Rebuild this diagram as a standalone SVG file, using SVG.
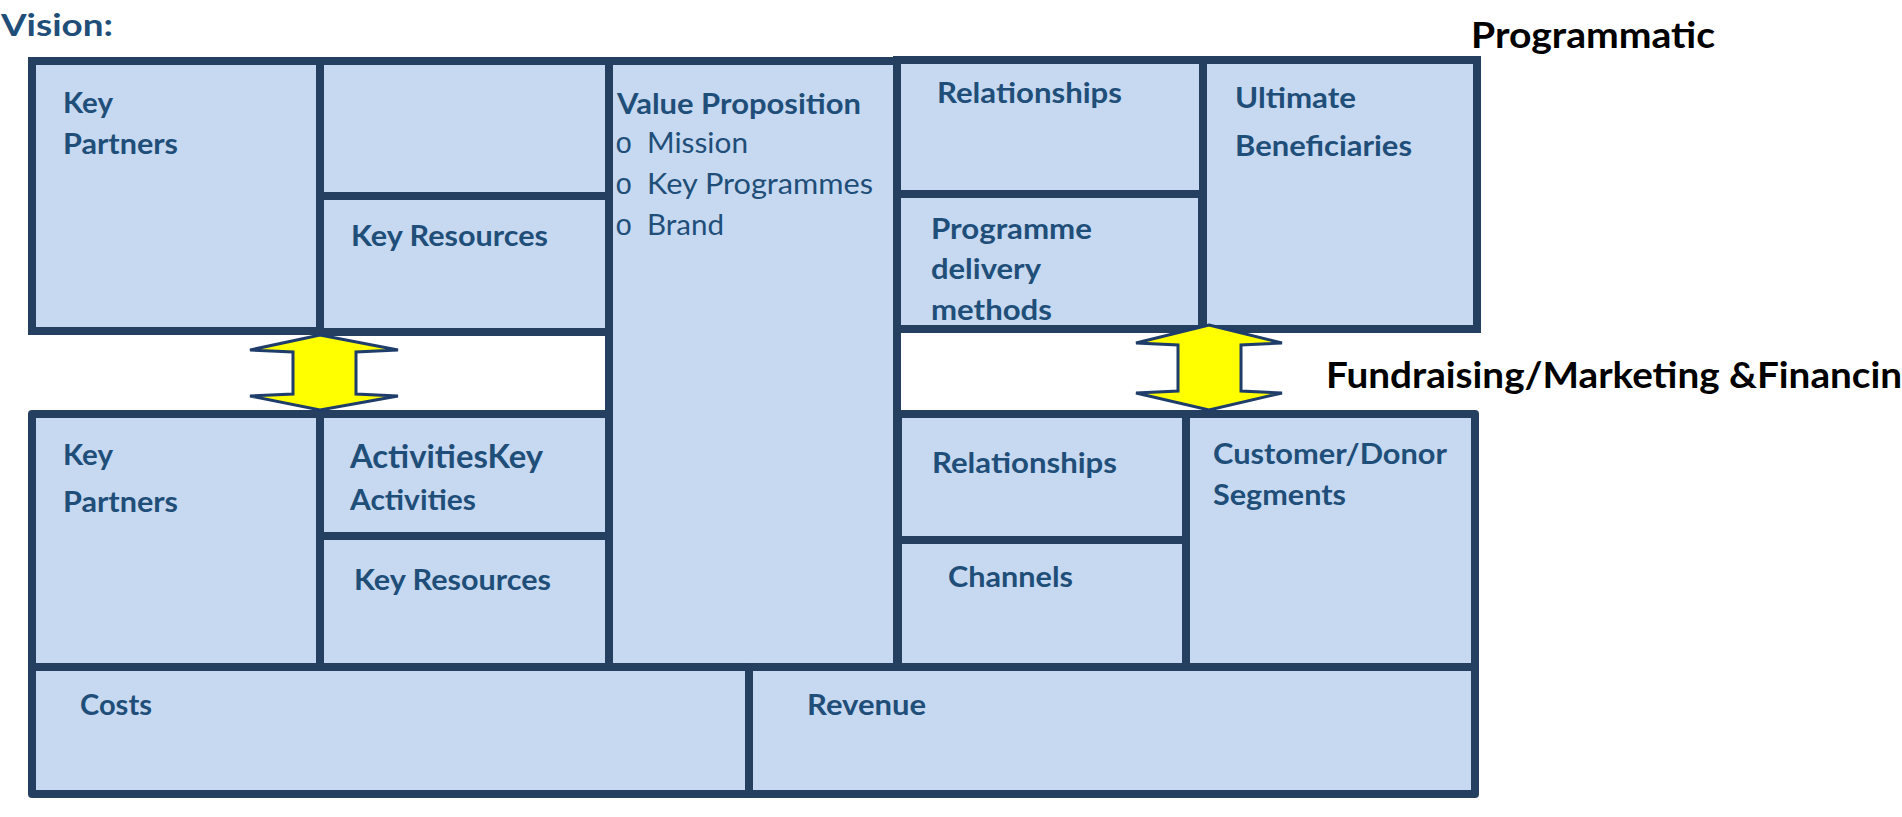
<svg xmlns="http://www.w3.org/2000/svg" width="1902" height="817" viewBox="0 0 1902 817">
<style>
.box{fill:#c6d9f1;stroke:#243f60;stroke-width:8}
.rb{stroke-linejoin:round}
.lb{font-family:Lato,"Liberation Sans",sans-serif;font-weight:bold;font-size:29px;fill:#1f4e79}
.rg{font-family:Lato,"Liberation Sans",sans-serif;font-weight:normal;font-size:29px;fill:#1f4e79}
.bul{font-family:"Liberation Mono",monospace;font-size:29px;fill:#1f4e79}
.hd{font-family:Lato,"Liberation Sans",sans-serif;font-weight:bold;font-size:36px;fill:#000}
.arr{fill:#ffff00;stroke:#1f3d6b;stroke-width:3;stroke-linejoin:miter}
</style>
<rect width="1902" height="817" fill="#fff"/>
<text class="lb" x="1" y="36" style="font-size:30px" textLength="112" lengthAdjust="spacingAndGlyphs">Vision:</text>
<text class="hd" x="1471" y="48" textLength="244" lengthAdjust="spacingAndGlyphs">Programmatic</text>
<text class="hd" x="1326" y="388" textLength="576" lengthAdjust="spacingAndGlyphs">Fundraising/Marketing &amp;Financin</text>

<g id="value-proposition">
<rect class="box" x="609" y="61" width="288" height="606"/>
<text class="lb" x="617" y="114" textLength="244" lengthAdjust="spacingAndGlyphs">Value Proposition</text>
<text class="bul" x="615" y="153">o</text>
<text class="rg" x="647" y="153" textLength="101" lengthAdjust="spacingAndGlyphs">Mission</text>
<text class="bul" x="615" y="194">o</text>
<text class="rg" x="647" y="194" textLength="226" lengthAdjust="spacingAndGlyphs">Key Programmes</text>
<text class="bul" x="615" y="235">o</text>
<text class="rg" x="647" y="235" textLength="77" lengthAdjust="spacingAndGlyphs">Brand</text>
</g>

<g id="key-partners-top">
<rect class="box" x="32" y="61" width="288" height="270"/>
<text class="lb" x="63" y="113" textLength="50" lengthAdjust="spacingAndGlyphs">Key</text>
<text class="lb" x="63" y="154" textLength="115" lengthAdjust="spacingAndGlyphs">Partners</text>
</g>
<g id="blank-top">
<rect class="box" x="320" y="61" width="289" height="135"/>
</g>
<g id="key-resources-top">
<rect class="box" x="320" y="196" width="289" height="136"/>
<text class="lb" x="351" y="246" textLength="197" lengthAdjust="spacingAndGlyphs">Key Resources</text>
</g>
<g id="relationships-top">
<rect class="box" x="897" y="60" width="306" height="134"/>
<text class="lb" x="937" y="103" textLength="185" lengthAdjust="spacingAndGlyphs">Relationships</text>
</g>
<g id="programme-delivery">
<rect class="box" x="897" y="194" width="305" height="135"/>
<text class="lb" x="931" y="239" textLength="161" lengthAdjust="spacingAndGlyphs">Programme</text>
<text class="lb" x="931" y="279" textLength="110" lengthAdjust="spacingAndGlyphs">delivery</text>
<text class="lb" x="931" y="320" textLength="121" lengthAdjust="spacingAndGlyphs">methods</text>
</g>
<g id="ultimate-beneficiaries">
<rect class="box" x="1203" y="60" width="274" height="269"/>
<text class="lb" x="1235" y="108" textLength="121" lengthAdjust="spacingAndGlyphs">Ultimate</text>
<text class="lb" x="1235" y="156" textLength="177" lengthAdjust="spacingAndGlyphs">Beneficiaries</text>
</g>

<g id="key-partners-bottom">
<rect class="box rb" x="32" y="414" width="288" height="253"/>
<text class="lb" x="63" y="465" textLength="50" lengthAdjust="spacingAndGlyphs">Key</text>
<text class="lb" x="63" y="512" textLength="115" lengthAdjust="spacingAndGlyphs">Partners</text>
</g>
<g id="key-activities">
<rect class="box" x="320" y="414" width="289" height="122"/>
<text class="lb" x="350" y="468" style="font-size:33px" textLength="193" lengthAdjust="spacingAndGlyphs">ActivitiesKey</text>
<text class="lb" x="350" y="510" textLength="126" lengthAdjust="spacingAndGlyphs">Activities</text>
</g>
<g id="key-resources-bottom">
<rect class="box" x="320" y="536" width="289" height="131"/>
<text class="lb" x="354" y="590" textLength="197" lengthAdjust="spacingAndGlyphs">Key Resources</text>
</g>
<g id="relationships-bottom">
<rect class="box" x="898" y="414" width="288" height="126"/>
<text class="lb" x="932" y="473" textLength="185" lengthAdjust="spacingAndGlyphs">Relationships</text>
</g>
<g id="channels">
<rect class="box" x="898" y="540" width="288" height="127"/>
<text class="lb" x="948" y="587" textLength="125" lengthAdjust="spacingAndGlyphs">Channels</text>
</g>
<g id="customer-donor-segments">
<rect class="box rb" x="1186" y="414" width="289" height="253"/>
<text class="lb" x="1213" y="464" textLength="234" lengthAdjust="spacingAndGlyphs">Customer/Donor</text>
<text class="lb" x="1213" y="505" textLength="133" lengthAdjust="spacingAndGlyphs">Segments</text>
</g>
<g id="costs">
<rect class="box rb" x="32" y="667" width="717" height="127"/>
<text class="lb" x="80" y="715" textLength="72" lengthAdjust="spacingAndGlyphs">Costs</text>
</g>
<g id="revenue">
<rect class="box rb" x="749" y="667" width="726" height="127"/>
<text class="lb" x="807" y="715" textLength="119" lengthAdjust="spacingAndGlyphs">Revenue</text>
</g>

<g id="connectors">
<polygon class="arr" points="320,335 398,350 356,352 356,394 398,396 320,410 250,396 293,394 293,352 250,350"/>
<polygon class="arr" points="1209,325 1282,343 1241,345 1241,391 1282,393 1209,410 1136,393 1178,391 1178,345 1136,343"/>
</g>
</svg>
